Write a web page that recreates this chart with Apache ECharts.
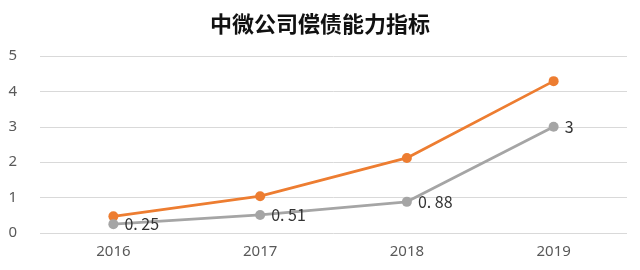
<!DOCTYPE html>
<html><head><meta charset="utf-8">
<script src="https://cdn.jsdelivr.net/npm/echarts@6/dist/echarts.min.js"></script>
<style>html,body{margin:0;padding:0;background:#fff}#c{width:640px;height:270px}</style>
</head><body><div id="c"></div>
<script>
const categories = ['2016', '2017', '2018', '2019'];
const seriesA = [0.47, 1.04, 2.12, 4.29];
const seriesB = [0.25, 0.51, 0.88, 3];
const yTicks = [0, 1, 2, 3, 4, 5];

const chart = echarts.init(document.getElementById('c'));
chart.setOption({
  animation: false,
  backgroundColor: '#fff',
  title: {
    text: '中微公司偿债能力指标', left: 'center', top: 8,
    textStyle: { fontFamily: 'Noto Sans CJK SC', fontSize: 22, fontWeight: 'bold', color: '#111' }
  },
  grid: { left: 40, right: 13, top: 56, bottom: 37 },
  xAxis: {
    type: 'category', data: categories, boundaryGap: true,
    axisLine: { show: false }, axisTick: { show: false },
    axisLabel: { color: '#595959', fontSize: 15, margin: 11, fontFamily: 'Noto Sans' }
  },
  yAxis: {
    type: 'value', min: yTicks[0], max: yTicks[yTicks.length - 1], interval: 1,
    axisLine: { show: false }, axisTick: { show: false },
    axisLabel: { color: '#595959', fontSize: 15, margin: 23, fontFamily: 'Noto Sans' },
    splitLine: { lineStyle: { color: '#d9d9d9', width: 1 } }
  },
  series: [
    {
      type: 'line', data: seriesA, symbol: 'circle', symbolSize: 10,
      lineStyle: { color: '#ED7D31', width: 2.75 }, itemStyle: { color: '#ED7D31' }
    },
    {
      type: 'line', data: seriesB, symbol: 'circle', symbolSize: 10,
      lineStyle: { color: '#A5A5A5', width: 2.75 }, itemStyle: { color: '#A5A5A5' },
      label: {
        show: true, position: 'right', distance: 6, color: '#333', fontSize: 16,
        fontFamily: 'Noto Sans CJK SC',
        formatter: p => String(p.value).replace('.', '. ')
      }
    }
  ]
});
</script></body></html>
